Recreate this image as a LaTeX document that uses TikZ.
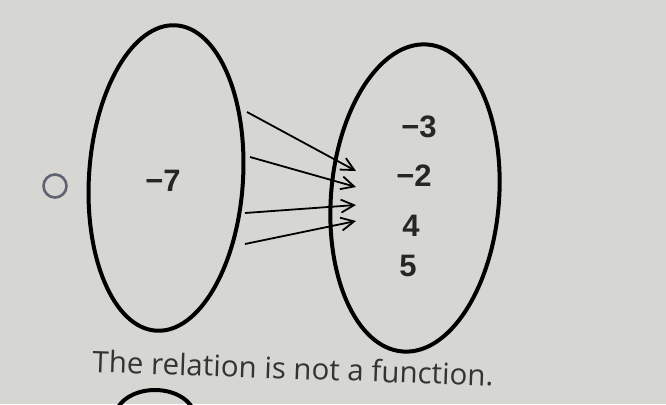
\documentclass[tikz,border=0pt]{standalone}
\usepackage{fontspec}
\setmainfont{Open Sans}
\newfontfamily\numfont{Liberation Sans}
\usetikzlibrary{arrows.meta}
\definecolor{bg}{HTML}{D6D6D3}
\definecolor{radio}{HTML}{5E6272}
\tikzset{
  setoval/.style={draw=black,line width=4pt},
  maparrow/.style={draw=black,line width=1.8pt,-{Straight Barb[length=13pt,width=13pt,line width=1.8pt]}},
  numlabel/.style={font=\numfont\bfseries\fontsize{31}{34}\selectfont,text=black!85},
}
\begin{document}
\begin{tikzpicture}[x=1pt,y=-1pt]
\fill[bg] (0,0) rectangle (666,404);
\useasboundingbox (0,0) rectangle (666,404);
% sets
\draw[setoval,rotate around={-3.7:(166,178)}] (166,178) ellipse [x radius=77,y radius=153];
\draw[setoval,rotate around={-4.7:(415,198)}] (415,198) ellipse [x radius=84,y radius=154];
\draw[setoval] (155,418) ellipse [x radius=40,y radius=28];
% radio button
\node[circle,draw=radio,line width=2.6pt,minimum size=23pt,inner sep=0pt] (radio) at (55,186) {};
% labels
\node[numlabel] (m7) at (163,181) {−7};
\node[numlabel] (m3) at (419,127) {−3};
\node[numlabel] (m2) at (414,176) {−2};
\node[numlabel] (f4) at (411,226) {4};
\node[numlabel] (f5) at (408,266) {5};
% arrow ends
\coordinate (s1) at (247,112); \coordinate (t1) at (356,171);
\coordinate (s2) at (250,157); \coordinate (t2) at (356,187);
\coordinate (s3) at (245,213); \coordinate (t3) at (356,205);
\coordinate (s4) at (245,244); \coordinate (t4) at (356,221);
\draw[maparrow] (s1) -- (t1);
\draw[maparrow] (s2) -- (t2);
\draw[maparrow] (s3) -- (t3);
\draw[maparrow] (s4) -- (t4);
% caption
\node[anchor=base west,rotate=-2,font=\fontsize{29.5}{32}\selectfont,text=black!80,inner sep=0pt] (cap) at (92,372) {The relation is not a function.};
\end{tikzpicture}
\end{document}
